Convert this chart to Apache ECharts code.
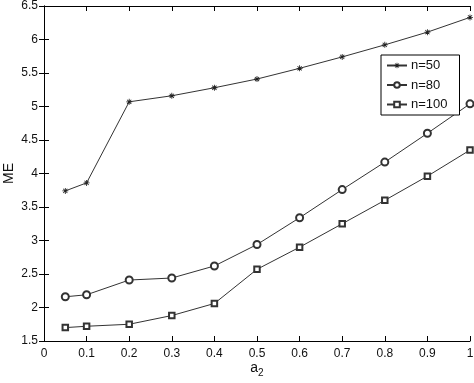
<!DOCTYPE html>
<html><head><meta charset="utf-8">
<script src="https://cdn.jsdelivr.net/npm/echarts@6/dist/echarts.min.js"></script>
<style>html,body{margin:0;padding:0;background:#fff}#c{width:474px;height:383px}</style>
</head><body><div id="c"></div>
<script>
const xValues = [0.05, 0.1, 0.2, 0.3, 0.4, 0.5, 0.6, 0.7, 0.8, 0.9, 1.0];
const seriesNames = ['n=50', 'n=80', 'n=100'];
const n50 = [3.74, 3.86, 5.07, 5.16, 5.28, 5.41, 5.57, 5.74, 5.92, 6.11, 6.33];
const n80 = [2.16, 2.19, 2.41, 2.44, 2.62, 2.94, 3.34, 3.76, 4.17, 4.60, 5.04];
const n100 = [1.70, 1.72, 1.75, 1.88, 2.06, 2.57, 2.90, 3.25, 3.60, 3.96, 4.35];

const FONT = '"Liberation Sans", Arial, sans-serif';
const asterisk = 'path://M0 4.3L10 4.3L10 5.7L0 5.7ZM4.3 0L5.7 0L5.7 10L4.3 10ZM1 2L2 1L9 8L8 9ZM8 1L9 2L2 9L1 8Z';

function pairs(ys){ return xValues.map((x,i)=>[x, ys[i]]); }

const chart = echarts.init(document.getElementById('c'), null, {renderer:'canvas'});
const axisCommon = {
  axisLine:{show:true, lineStyle:{color:'#000', width:1}},
  axisTick:{show:true, inside:true, length:5, lineStyle:{color:'#000'}},
  splitLine:{show:false}
};
const LINE = '#333';
chart.setOption({
  animation:false,
  backgroundColor:'#fff',
  grid:{left:44, right:4, top:6, bottom:42, containLabel:false, outerBoundsMode:'none'},
  legend:{
    data:seriesNames, orient:'vertical', left:381, top:55,
    itemWidth:20, itemHeight:7, itemGap:6.5,
    padding:[4,12,4,5],
    borderColor:'#000', borderWidth:1, backgroundColor:'#fff',
    textStyle:{fontFamily:FONT, fontSize:13, color:'#111', padding:[0,0,0,-1]}
  },
  xAxis:[
    Object.assign({type:'value', min:0, max:1, interval:0.1, position:'bottom',
      name:'{a|a}{s|2}', nameLocation:'middle', nameGap:17, nameMoveOverlap:false,
      nameTextStyle:{rich:{a:{fontFamily:FONT, fontSize:14, color:'#111'}, s:{fontFamily:FONT, fontSize:10, color:'#111', padding:[10,0,0,0]}}},
      axisLabel:{fontFamily:FONT, fontSize:12, color:'#111', margin:7}}, axisCommon),
    Object.assign({type:'value', min:0, max:1, interval:0.1, position:'top',
      axisLabel:{show:false}}, axisCommon)
  ],
  yAxis:[
    Object.assign({type:'value', min:1.5, max:6.5, interval:0.5, position:'left',
      name:'ME', nameLocation:'middle', nameGap:28, nameRotate:90, nameMoveOverlap:false,
      nameTextStyle:{fontFamily:FONT, fontSize:14, color:'#111'},
      axisLabel:{fontFamily:FONT, fontSize:12, color:'#111', margin:6}}, axisCommon),
    Object.assign({type:'value', min:1.5, max:6.5, interval:0.5, position:'right',
      axisLabel:{show:false}}, axisCommon)
  ],
  series:[
    {name:seriesNames[0], type:'line', data:pairs(n50), symbol:asterisk, symbolSize:6,
      lineStyle:{color:LINE, width:1}, itemStyle:{color:'#222'}},
    {name:seriesNames[1], type:'line', data:pairs(n80), symbol:'emptyCircle', symbolSize:7,
      lineStyle:{color:LINE, width:1}, itemStyle:{color:'#333', borderWidth:1}},
    {name:seriesNames[2], type:'line', data:pairs(n100), symbol:'emptyRect', symbolSize:5.5,
      lineStyle:{color:LINE, width:1}, itemStyle:{color:'#333', borderWidth:1}}
  ]
});
</script></body></html>
